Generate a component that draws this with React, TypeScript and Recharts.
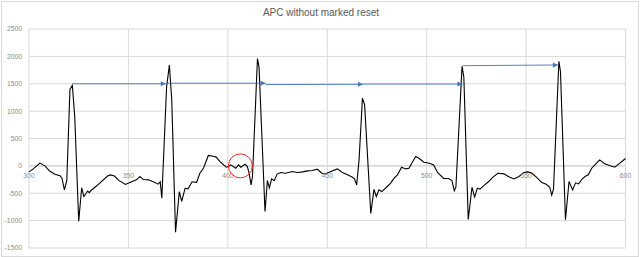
import React from "react";
import {
  LineChart,
  Line,
  XAxis,
  YAxis,
  CartesianGrid,
  ReferenceLine,
  ReferenceDot,
} from "recharts";

// trace samples
const sampleX = [
  300, 302, 305.5, 308, 310.4, 313, 315.6, 316.6, 317.8, 319, 320.6, 321.8, 323, 325, 326.5, 327.6, 329.5,
  330.3, 331.5, 334.5, 339.5, 341, 343, 345, 348.5, 351.6, 354, 355.8, 357.5, 360, 362.5, 365, 366, 366.8,
  369.2, 370.6, 371.8, 373.7, 375.6, 376.8, 378.5, 380, 382, 384.3, 386, 387.8, 390.2, 392.6, 394, 396.3,
  399.2, 400.3, 401.5, 404, 405.4, 406.5, 408.7, 409.8, 410.7, 411.7, 412.4, 414.9, 415.7, 418.7, 419.9,
  420.9, 422, 423.3, 424.8, 426.6, 429, 432.5, 435, 437.7, 440, 442.5, 445, 447.3, 449.2, 451.8, 455.1,
  457.6, 460.2, 462.7, 463.7, 464.8, 466, 467.7, 468.8, 471.9, 473.5, 474.7, 476, 477.4, 480.2, 481.9,
  483.6, 485.3, 487.4, 489.4, 491.1, 492.5, 494.5, 496.1, 498.6, 501.5, 503.5, 505.5, 508.5, 511, 512.7,
  513.9, 514.7, 517.8, 518.7, 520.9, 522.8, 524.1, 525.5, 526.8, 528.6, 531.2, 533.5, 535.8, 538.9, 541.3,
  543.9, 546.4, 548.9, 550.8, 552.8, 555.3, 557.8, 560.3, 561.9, 562.9, 563.8, 566.5, 567.3, 569.8, 571.6,
  573.4, 574.9, 576.4, 578.2, 579.8, 581.3, 583, 584.6, 587, 589.5, 592, 594.6, 597, 600,
];
const sampleY = [
  -110, -60, 50, 0, -95, -152, -180, -225, -440, -270, 1400, 1470, 900, -1010, -400, -560, -460,
  -490, -440, -350, -185, -165, -185, -260, -340, -290, -255, -195, -250, -255, -290, -334, -290, -590,
  1440, 1840, 1200, -1210, -469, -650, -410, -420, -290, -300, -130, -40, 190, 175, 165, 70,
  -24, -12, 18, -43, 18, -24, 30, -12, -134, -347, -195, 1960, 1800, -834, -270,
  -400, -237, -270, -150, -122, -134, -104, -122, -110, -91, -85, -61, -134, -146, -104, -55,
  -122, -164, -207, -237, -347, 109, 1235, 1113, -870, -430, -560, -438, -469, -377, -316,
  -225, -164, -24, -55, -43, 49, 170, 140, 67, 49, 18, -120, -230, -230, -268,
  -456, -390, 1820, 1620, -980, -390, -570, -407, -425, -365, -286, -200, -134, -146, -200,
  -240, -195, -122, -110, -130, -210, -300, -340, -390, -535, -420, 1910, 1720, -985, -286,
  -438, -310, -330, -240, -190, -164, -43, 20, 109, 40, 5, -25, 45, 135,
];

// blue arrows: [x0, y0, x1, y1]
const arrowSegments = [
  [321.8, 1500, 368.8, 1500],
  [368.8, 1510, 419, 1510],
  [419, 1485, 468, 1490],
  [468, 1495, 518, 1495],
  [518, 1830, 566, 1843],
];

const xTicks = [300, 350, 400, 450, 500, 550, 600];
const yTicks = [-1500, -1000, -500, 0, 500, 1000, 1500, 2000, 2500];
const markX = 406.3;
const markY = 0;

const W = 640;
const H = 257;
const TOP = 29;
const BOTTOM = 9;
const Y_MIN = -1500;
const Y_MAX = 2500;
const zeroPx = TOP + ((H - TOP - BOTTOM) * Y_MAX) / (Y_MAX - Y_MIN);

const FONT = "'Liberation Sans', Arial, sans-serif";

const trace = sampleX.map((x, i) => ({ x, v: sampleY[i] }));

function renderXTick(props: any) {
  const { x, payload, index } = props;
  return (
    <text
      key={`xt${index}`}
      x={x}
      y={zeroPx + 12}
      textAnchor="middle"
      fill="#8c8c8c"
      fontSize={6.8}
      fontFamily={FONT}
    >
      {payload.value}
    </text>
  );
}

function ArrowHead(props: any) {
  const { cx, cy, index, length } = props;
  if (index !== length - 1 || cx == null) return <g key={`d${index}`} />;
  return (
    <polygon
      key={`d${index}`}
      points={`${cx},${cy} ${cx - 5},${cy - 2.5} ${cx - 5},${cy + 2.5}`}
      fill="#4472C4"
    />
  );
}

export default function App() {
  return (
    <div style={{ position: "absolute", left: 0, top: 0, width: W, height: H, background: "#fff" }}>
      <div
        style={{
          position: "absolute",
          left: 1,
          top: 1,
          width: W - 2,
          height: H - 1,
          border: "1px solid #d9d9d9",
          boxSizing: "border-box",
        }}
      />
      <div
        style={{
          position: "absolute",
          left: 1,
          top: 7,
          width: W,
          textAlign: "center",
          fontFamily: FONT,
          fontSize: 10,
          lineHeight: "12px",
          color: "#595959",
        }}
      >
        APC without marked reset
      </div>
      <LineChart
        width={W}
        height={H}
        data={trace}
        margin={{ top: TOP, right: 14.5, bottom: BOTTOM - 1, left: 0 }}
        style={{ position: "absolute", left: 0, top: 0 }}
      >
        <CartesianGrid stroke="#d9d9d9" strokeWidth={1} />
        <XAxis
          dataKey="x"
          type="number"
          domain={[300, 600]}
          ticks={xTicks}
          height={1}
          axisLine={false}
          tickLine={false}
          tick={renderXTick}
          interval={0}
        />
        <YAxis
          type="number"
          domain={[Y_MIN, Y_MAX]}
          ticks={yTicks}
          width={29}
          axisLine={false}
          tickLine={false}
          tickMargin={1}
          interval={0}
          tick={{ fill: "#8c8c8c", fontSize: 6.8, fontFamily: FONT }}
        />
        <ReferenceLine y={0} stroke="#cfcfcf" strokeWidth={1} />
        <Line
          dataKey="v"
          stroke="#000"
          strokeWidth={1.1}
          dot={false}
          isAnimationActive={false}
          type="linear"
        />
        {arrowSegments.map((s, i) => {
          const pts = [
            { x: s[0], v: s[1] },
            { x: s[2], v: s[3] },
          ];
          return (
            <Line
              key={`a${i}`}
              data={pts}
              dataKey="v"
              stroke="#4472C4"
              strokeWidth={0.9}
              dot={(p: any) => <ArrowHead {...p} length={pts.length} />}
              activeDot={false}
              isAnimationActive={false}
              type="linear"
            />
          );
        })}
        <ReferenceDot
          x={markX}
          y={markY}
          r={12}
          fill="none"
          stroke="#ff2020"
          strokeWidth={1}
          ifOverflow="visible"
        />
      </LineChart>
    </div>
  );
}
